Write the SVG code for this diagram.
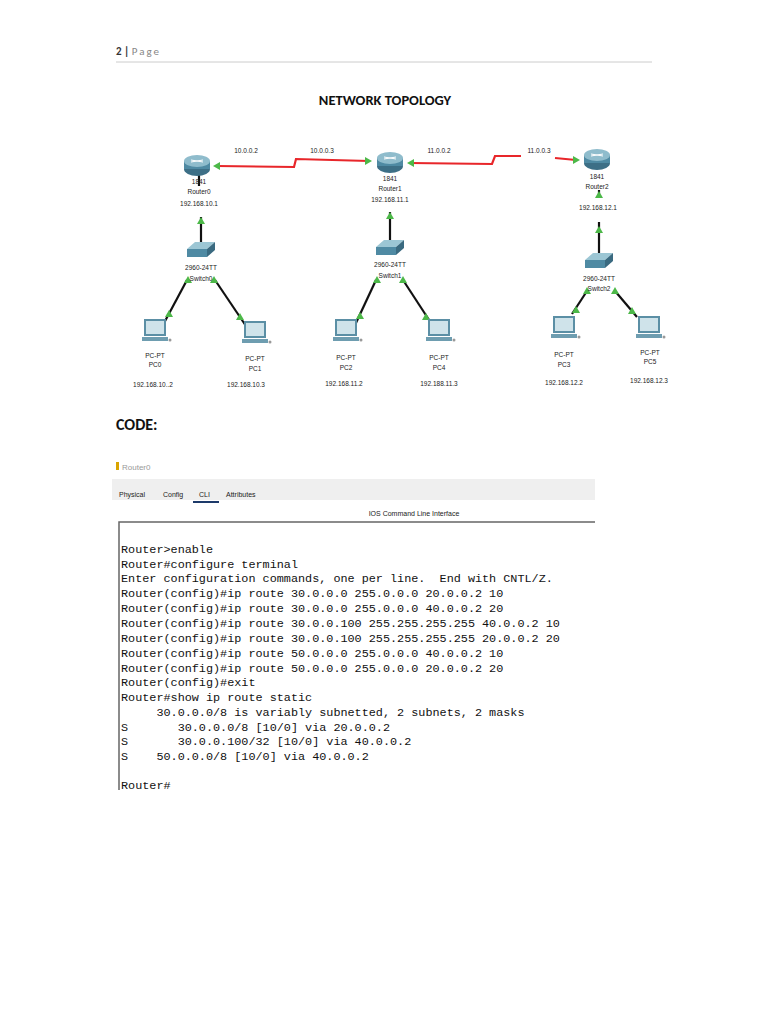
<svg xmlns="http://www.w3.org/2000/svg" width="768" height="1024" viewBox="0 0 768 1024">
<style>
.s{font-family:"Liberation Sans",Arial,sans-serif;font-size:6.5px;fill:#222;text-anchor:middle}
.m{font-family:"Liberation Mono","Courier New",monospace;font-size:11.8px;fill:#111;white-space:pre}
.k{stroke:#111;stroke-width:2.2;fill:none}
.g{fill:#4cb848}
</style>
<defs>
<g id="rt"><ellipse cx="0" cy="4" rx="13" ry="7" fill="#3d6f86"/><rect x="-13" y="-4" width="26" height="8" fill="#4f8aa3"/><ellipse cx="0" cy="-4" rx="13" ry="6" fill="#8fbccc"/><path d="M-6,-5 L6,-3 M6,-5 L-6,-3" stroke="#fff" stroke-width="1"/></g>
<g id="sw"><path d="M-12,-4 L-4,-11 L16,-11 L8,-4 Z" fill="#9cc6d4"/><rect x="-12" y="-4" width="20" height="8" fill="#4f8aa3"/><path d="M8,-4 L16,-11 L16,-3 L8,4 Z" fill="#3a6a80"/></g>
<g id="pc"><rect x="-11" y="-13" width="22" height="17" fill="#5b8fa5"/><rect x="-9" y="-11" width="18" height="13" fill="#cfe3ea"/><rect x="-13" y="5" width="26" height="4" fill="#6e9db0"/><circle cx="15" cy="8" r="1.5" fill="#999"/></g>
<polygon id="ar" points="0,-4 4,3 -4,3" class="g"/>
</defs>
<rect width="768" height="1024" fill="#fff"/>
<text x="116" y="55" font-family="Calibri,'Carlito','Liberation Sans',sans-serif" font-size="11" fill="#333"><tspan font-weight="bold">2 |</tspan> <tspan fill="#888" letter-spacing="2">Page</tspan></text>
<line x1="116" y1="62" x2="652" y2="62" stroke="#ccc" stroke-width="1"/>
<text x="385" y="105" font-family="Carlito,'Liberation Sans',sans-serif" font-size="14.5" font-weight="bold" text-anchor="middle" fill="#111">NETWORK TOPOLOGY</text>
<g id="connectors">
<polyline points="217,166 294,167 296,159 369,161" stroke="#e8262a" stroke-width="2.2" fill="none"/>
<polyline points="410,163 492,164 495,156 521,156" stroke="#e8262a" stroke-width="2.2" fill="none"/>
<line x1="555" y1="158" x2="576" y2="160" stroke="#e8262a" stroke-width="2.2"/>
<line x1="199" y1="172" x2="199" y2="186" class="k"/>
<line x1="201" y1="248" x2="201" y2="217" class="k"/>
<line x1="390" y1="244" x2="390" y2="212" class="k"/>
<line x1="599" y1="190" x2="599" y2="196" class="k"/>
<line x1="599" y1="259" x2="599" y2="222" class="k"/>
<line x1="187" y1="280" x2="164" y2="323" class="k"/>
<line x1="215" y1="280" x2="246" y2="326" class="k"/>
<line x1="376" y1="280" x2="355" y2="325" class="k"/>
<line x1="403" y1="280" x2="433" y2="326" class="k"/>
<line x1="587" y1="291" x2="572" y2="314" class="k"/>
<line x1="615" y1="291" x2="637" y2="317" class="k"/>
<use href="#ar" x="217" y="166" transform="rotate(-90 217 166)"/>
<use href="#ar" x="368" y="161" transform="rotate(90 368 161)"/>
<use href="#ar" x="411" y="163" transform="rotate(-90 411 163)"/>
<use href="#ar" x="576" y="160" transform="rotate(90 576 160)"/>
<use href="#ar" x="201" y="221"/><use href="#ar" x="390" y="216"/><use href="#ar" x="599" y="195"/><use href="#ar" x="599" y="230"/>
<use href="#ar" x="188" y="280"/><use href="#ar" x="214" y="280"/><use href="#ar" x="377" y="280"/><use href="#ar" x="403" y="280"/><use href="#ar" x="587" y="291"/><use href="#ar" x="615" y="291"/>
<use href="#ar" x="169" y="314"/><use href="#ar" x="240" y="317"/><use href="#ar" x="360" y="316"/><use href="#ar" x="426" y="317"/><use href="#ar" x="576" y="310"/><use href="#ar" x="632" y="311"/>
<text x="246" y="153" class="s">10.0.0.2</text><text x="322" y="153" class="s">10.0.0.3</text>
<text x="439" y="153" class="s">11.0.0.2</text><text x="539" y="153" class="s">11.0.0.3</text>
</g>
<g id="router0"><use href="#rt" x="197" y="165"/><text x="199" y="184" class="s">1841</text><text x="199" y="194" class="s">Router0</text><text x="199" y="206" class="s">192.168.10.1</text></g>
<g id="router1"><use href="#rt" x="390" y="162"/><text x="390" y="181" class="s">1841</text><text x="390" y="191" class="s">Router1</text><text x="390" y="202" class="s">192.168.11.1</text></g>
<g id="router2"><use href="#rt" x="597" y="159"/><text x="597" y="179" class="s">1841</text><text x="597" y="189" class="s">Router2</text><text x="598" y="210" class="s">192.168.12.1</text></g>
<g id="switch0"><use href="#sw" x="199" y="253"/><text x="201" y="270" class="s">2960-24TT</text><text x="201" y="281" class="s">Switch0</text></g>
<g id="switch1"><use href="#sw" x="388" y="251"/><text x="390" y="267" class="s">2960-24TT</text><text x="390" y="278" class="s">Switch1</text></g>
<g id="switch2"><use href="#sw" x="597" y="264"/><text x="599" y="281" class="s">2960-24TT</text><text x="599" y="291" class="s">Switch2</text></g>
<g id="pc0"><use href="#pc" x="155" y="332"/><text x="155" y="358" class="s">PC-PT</text><text x="155" y="367" class="s">PC0</text><text x="153" y="387" class="s">192.168.10..2</text></g>
<g id="pc1"><use href="#pc" x="255" y="334"/><text x="255" y="361" class="s">PC-PT</text><text x="255" y="371" class="s">PC1</text><text x="246" y="387" class="s">192.168.10.3</text></g>
<g id="pc2"><use href="#pc" x="346" y="332"/><text x="346" y="360" class="s">PC-PT</text><text x="346" y="370" class="s">PC2</text><text x="344" y="386" class="s">192.168.11.2</text></g>
<g id="pc4"><use href="#pc" x="439" y="332"/><text x="439" y="360" class="s">PC-PT</text><text x="439" y="370" class="s">PC4</text><text x="439" y="386" class="s">192.188.11.3</text></g>
<g id="pc3"><use href="#pc" x="564" y="329"/><text x="564" y="357" class="s">PC-PT</text><text x="564" y="367" class="s">PC3</text><text x="564" y="385" class="s">192.168.12.2</text></g>
<g id="pc5"><use href="#pc" x="649" y="329"/><text x="650" y="355" class="s">PC-PT</text><text x="650" y="364" class="s">PC5</text><text x="649" y="383" class="s">192.168.12.3</text></g>
<text x="116" y="430" font-family="Carlito,'Liberation Sans',sans-serif" font-size="16" font-weight="bold" fill="#111">CODE:</text>
<g id="cli">
<rect x="116" y="462" width="3" height="8" fill="#d9a400"/>
<text x="122" y="470" font-family="'Liberation Sans',sans-serif" font-size="8" fill="#999">Router0</text>
<rect x="112" y="479" width="483" height="21" fill="#efefef"/>
<rect x="112" y="500" width="483" height="20" fill="#fff"/>
<text font-family="'Liberation Sans',sans-serif" font-size="7" fill="#222" y="497"><tspan x="119">Physical</tspan><tspan x="163">Config</tspan><tspan x="199">CLI</tspan><tspan x="226">Attributes</tspan></text>
<rect x="193" y="501" width="26" height="2" fill="#1d3a6a"/>
<text x="414" y="516" font-family="'Liberation Sans',sans-serif" font-size="7" text-anchor="middle" fill="#222">IOS Command Line Interface</text>
<path d="M119,790 V522 H595" stroke="#666" stroke-width="1.5" fill="none"/>
<text class="m" xml:space="preserve"><tspan x="121" y="553">Router&gt;enable</tspan><tspan x="121" y="568">Router#configure terminal</tspan><tspan x="121" y="582">Enter configuration commands, one per line.  End with CNTL/Z.</tspan><tspan x="121" y="597">Router(config)#ip route 30.0.0.0 255.0.0.0 20.0.0.2 10</tspan><tspan x="121" y="612">Router(config)#ip route 30.0.0.0 255.0.0.0 40.0.0.2 20</tspan><tspan x="121" y="627">Router(config)#ip route 30.0.0.100 255.255.255.255 40.0.0.2 10</tspan><tspan x="121" y="642">Router(config)#ip route 30.0.0.100 255.255.255.255 20.0.0.2 20</tspan><tspan x="121" y="657">Router(config)#ip route 50.0.0.0 255.0.0.0 40.0.0.2 10</tspan><tspan x="121" y="672">Router(config)#ip route 50.0.0.0 255.0.0.0 20.0.0.2 20</tspan><tspan x="121" y="686">Router(config)#exit</tspan><tspan x="121" y="701">Router#show ip route static</tspan><tspan x="121" y="716">     30.0.0.0/8 is variably subnetted, 2 subnets, 2 masks</tspan><tspan x="121" y="731">S       30.0.0.0/8 [10/0] via 20.0.0.2</tspan><tspan x="121" y="745">S       30.0.0.100/32 [10/0] via 40.0.0.2</tspan><tspan x="121" y="760">S    50.0.0.0/8 [10/0] via 40.0.0.2</tspan><tspan x="121" y="789">Router#</tspan></text>
</g>
</svg>
